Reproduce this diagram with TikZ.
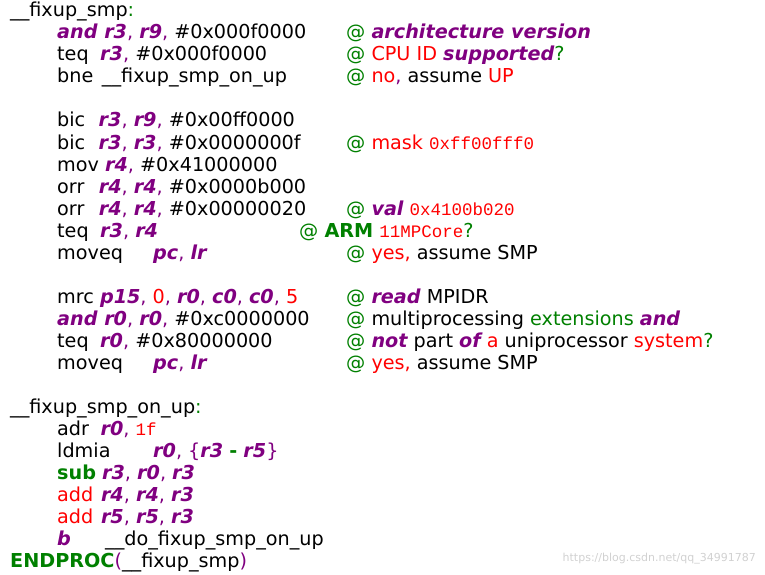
\documentclass[tikz,border=0pt]{standalone}
\usepackage{fontspec}
\setmainfont{DejaVu Sans}
\newfontfamily\monofnt{Liberation Mono}
\definecolor{pur}{HTML}{800080}
\definecolor{grn}{HTML}{008000}
\definecolor{red}{HTML}{FF0000}
\newcommand\pu[1]{\textcolor{pur}{\bfseries\itshape #1}}
\newcommand\pc{\textcolor{pur}{,}}
\newcommand\rd[1]{\textcolor{red}{#1}}
\newcommand\gb[1]{\textcolor{grn}{\bfseries #1}}
\newcommand\gr[1]{\textcolor{grn}{#1}}
\newcommand\mr[1]{\textcolor{red}{\fontsize{17.5}{20}\monofnt #1}}
\newcommand\at{\textcolor{grn}{@}}
\tikzset{t/.style={anchor=base west,inner sep=0pt,font=\fontsize{19.2}{22}\selectfont}}
\begin{document}
\begin{tikzpicture}[x=1pt,y=-1pt]
\useasboundingbox (0,0) rectangle (765,575);
\def\B#1{17+22*#1}
\node[t] (l0) at (10,{\B0}) {\_\_fixup\_smp\gr{:}};
\node[t] (l1) at (57,{\B1}) {\pu{and r3}\pc{} \pu{r9}\pc{} \#0x000f0000};
\node[t] (c1) at (346,{\B1}) {\at{} \pu{architecture version}};
\node[t] (l2) at (57,{\B2}) {teq\hspace{0.6em}\pu{r3}\pc{} \#0x000f0000};
\node[t] (c2) at (346,{\B2}) {\at{} \rd{CPU ID} \pu{supported}\gr{?}};
\node[t] (l3) at (57,{\B3}) {bne\hspace{0.45em}\_\_fixup\_smp\_on\_up};
\node[t] (c3) at (346,{\B3}) {\at{} \rd{no}\pc{} assume \rd{UP}};
\node[t] (l5) at (57,{\B5}) {bic\hspace{0.7em}\pu{r3}\pc{} \pu{r9}\pc{} \#0x00ff0000};
\node[t] (l6) at (57,{\B6}) {bic\hspace{0.7em}\pu{r3}\pc{} \pu{r3}\pc{} \#0x0000000f};
\node[t] (c6) at (346,{\B6}) {\at{} \rd{mask} \mr{0xff00fff0}};
\node[t] (l7) at (57,{\B7}) {mov \pu{r4}\pc{} \#0x41000000};
\node[t] (l8) at (57,{\B8}) {orr\hspace{0.75em}\pu{r4}\pc{} \pu{r4}\pc{} \#0x0000b000};
\node[t] (l9) at (57,{\B9}) {orr\hspace{0.75em}\pu{r4}\pc{} \pu{r4}\pc{} \#0x00000020};
\node[t] (c9) at (346,{\B9}) {\at{} \pu{val} \mr{0x4100b020}};
\node[t] (l10) at (57,{\B{10}}) {teq\hspace{0.6em}\pu{r3}\pc{} \pu{r4}};
\node[t] (c10) at (299,{\B{10}}) {\at{} \gb{ARM} \mr{11MPCore}\gr{?}};
\node[t] (l11) at (57,{\B{11}}) {moveq};
\node[t] (o11) at (153,{\B{11}}) {\pu{pc}\pc{} \pu{lr}};
\node[t] (c11) at (346,{\B{11}}) {\at{} \rd{yes}\rd{,} assume SMP};
\node[t] (l13) at (57,{\B{13}}) {mrc \pu{p15}\pc{} \rd{0}\pc{} \pu{r0}\pc{} \pu{c0}\pc{} \pu{c0}\pc{} \rd{5}};
\node[t] (c13) at (346,{\B{13}}) {\at{} \pu{read} MPIDR};
\node[t] (l14) at (57,{\B{14}}) {\pu{and r0}\pc{} \pu{r0}\pc{} \#0xc0000000};
\node[t] (c14) at (346,{\B{14}}) {\at{} multiprocessing \gr{extensions} \pu{and}};
\node[t] (l15) at (57,{\B{15}}) {teq\hspace{0.6em}\pu{r0}\pc{} \#0x80000000};
\node[t] (c15) at (346,{\B{15}}) {\at{} \pu{not} part \pu{of} \rd{a} uniprocessor \rd{system}\gr{?}};
\node[t] (l16) at (57,{\B{16}}) {moveq};
\node[t] (o16) at (153,{\B{16}}) {\pu{pc}\pc{} \pu{lr}};
\node[t] (c16) at (346,{\B{16}}) {\at{} \rd{yes}\rd{,} assume SMP};
\node[t] (l18) at (10,{\B{18}}) {\_\_fixup\_smp\_on\_up\gr{:}};
\node[t] (l19) at (57,{\B{19}}) {adr\hspace{0.6em}\pu{r0}\pc{} \mr{1f}};
\node[t] (l20) at (57,{\B{20}}) {ldmia};
\node[t] (o20) at (153,{\B{20}}) {\pu{r0}\pc{} \textcolor{pur}{\{}\pu{r3} \gb{-} \pu{r5}\textcolor{pur}{\}}};
\node[t] (l21) at (57,{\B{21}}) {\gb{sub} \pu{r3}\pc{} \pu{r0}\pc{} \pu{r3}};
\node[t] (l22) at (57,{\B{22}}) {\rd{add}\hspace{0.4em}\pu{r4}\pc{} \pu{r4}\pc{} \pu{r3}};
\node[t] (l23) at (57,{\B{23}}) {\rd{add}\hspace{0.4em}\pu{r5}\pc{} \pu{r5}\pc{} \pu{r3}};
\node[t] (l24) at (57,{\B{24}}) {\pu{b}};
\node[t] (o24) at (105,{\B{24}}) {\_\_do\_fixup\_smp\_on\_up};
\node[t] (l25) at (10,{\B{25}}) {\gb{ENDPROC}\textcolor{pur}{(}\_\_fixup\_smp\textcolor{pur}{)}};
\node[anchor=base east,inner sep=0pt,text=black!18,font=\fontsize{11}{13}\selectfont] (wm) at (756,{\B{25}-6}) {https://blog.csdn.net/qq\_34991787};
\end{tikzpicture}
\end{document}
